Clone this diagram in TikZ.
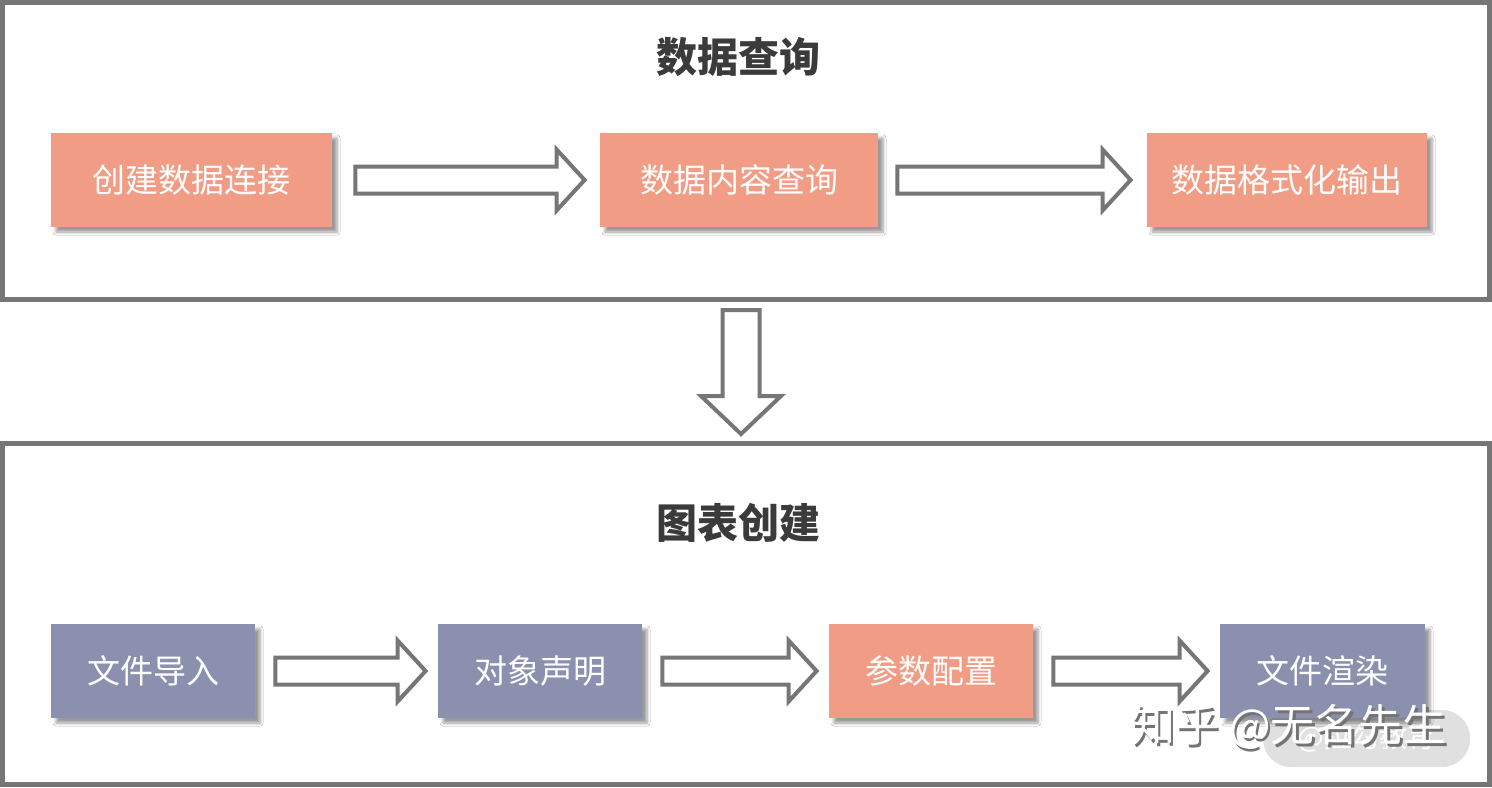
\documentclass[tikz,border=0pt]{standalone}
\usepackage{fontspec}
\setmainfont{Noto Sans CJK SC}
\newfontfamily\cjk{Noto Sans CJK SC}
\usetikzlibrary{calc,shadows.blur}
\definecolor{salmon}{RGB}{241,157,133}
\definecolor{lav}{RGB}{139,144,175}
\definecolor{framegray}{RGB}{118,118,118}
\definecolor{titlegray}{RGB}{59,59,59}
\tikzset{
  frame/.style={draw=framegray, line width=2.5pt, fill=none, inner sep=0pt},
  stepbox/.style={inner sep=0pt, minimum height=47pt, text=white,
    font=\cjk\fontsize{16.5}{18}\selectfont,
    blur shadow={shadow xshift=2.5pt, shadow yshift=-2.5pt, shadow blur radius=1.5pt, shadow blur steps=6, shadow opacity=40}},
  obox/.style={stepbox, fill=salmon},
  pbox/.style={stepbox, fill=lav},
  barrow/.style={draw=framegray, line width=2pt, fill=white, line join=miter},
  title/.style={font=\cjk\bfseries\fontsize{20.5}{24}\selectfont, text=titlegray},
}
\newcommand\harrow[2]{%
  \draw[barrow] let \p1=(#1), \p2=(#2) in
    (\x1,\y1+6.75pt) -- (\x2-14pt,\y1+6.75pt) -- (\x2-14pt,\y1+15.25pt) -- (\x2,\y1)
    -- (\x2-14pt,\y1-15.25pt) -- (\x2-14pt,\y1-6.75pt) -- (\x1,\y1-6.75pt) -- cycle;}
\begin{document}
\begin{tikzpicture}[x=0.5pt,y={(0pt,-0.5pt)}]
\useasboundingbox (0,0) rectangle (1492,787);
\fill[white] (0,0) rectangle (1492,787);
% frames
\node[frame, minimum width=743.5pt, minimum height=148.25pt] (topframe) at (746,150.75) {};
\node[frame, minimum width=743.5pt, minimum height=170.5pt] (botframe) at (746,613.5) {};
% titles
\node[title] (t1) at (738,57) {数据查询};
\node[title] (t2) at (738,523) {图表创建};
% top row
\node[obox, minimum width=140.5pt] (a1) at (191.5,180) {创建数据连接};
\node[obox, minimum width=139pt] (a2) at (739,180) {数据内容查询};
\node[obox, minimum width=140pt] (a3) at (1287,180) {数据格式化输出};
\harrow{$(a1.east)+(23,0)$}{$(a2.west)+(-15,0)$}
\harrow{$(a2.east)+(19,0)$}{$(a3.west)+(-16,0)$}
% down arrow
\coordinate (dtop) at (741,310);
\coordinate (dtip) at (741,434);
\draw[barrow] let \p1=(dtop), \p2=(dtip) in
  (\x1-9.25pt,\y1) -- (\x1+9.25pt,\y1) -- (\x1+9.25pt,\y2+19pt) -- (\x1+20pt,\y2+19pt)
  -- (\x2,\y2) -- (\x1-20pt,\y2+19pt) -- (\x1-9.25pt,\y2+19pt) -- cycle;
% watermark pill (behind)
\node[fill=black!12, rounded corners=14pt, minimum width=103.5pt, minimum height=28.5pt, inner sep=0pt,
  text=white, font=\cjk\fontsize{14}{16}\selectfont] (pill) at (1366.5,738.5) {@拉勾教育};
% bottom row
\node[pbox, minimum width=102pt] (b1) at (153,671) {文件导入};
\node[pbox, minimum width=102pt] (b2) at (540,671) {对象声明};
\node[obox, minimum width=102pt] (b3) at (931,671) {参数配置};
\node[pbox, minimum width=102.5pt] (b4) at (1322.5,671) {文件渲染};
\harrow{$(b1.east)+(20,0)$}{$(b2.west)+(-12,0)$}
\harrow{$(b2.east)+(20,0)$}{$(b3.west)+(-12,0)$}
\harrow{$(b3.east)+(20,0)$}{$(b4.west)+(-12,0)$}
% watermark text
\node[anchor=west, inner sep=0pt, text=black!55, font=\cjk\fontsize{22}{24}\selectfont] (wm2) at (1133.5,729.5) {知乎 @无名先生};
\node[anchor=west, inner sep=0pt, text=white, font=\cjk\fontsize{22}{24}\selectfont] (wm) at (1131,727) {知乎 @无名先生};
\end{tikzpicture}
\end{document}
